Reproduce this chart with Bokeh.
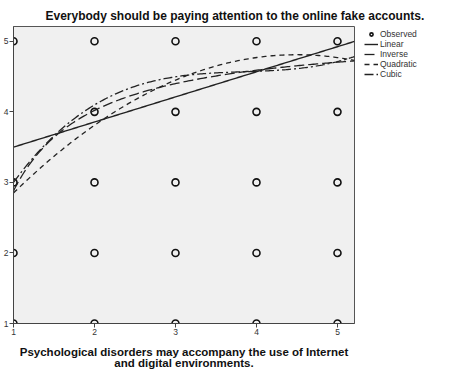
from bokeh.plotting import figure
from bokeh.models import Legend, LegendItem, Range1d, FixedTicker, ColumnDataSource
from bokeh.embed import file_html
from bokeh.resources import INLINE
import numpy as np

title_text = "Everybody should be paying attention to the online fake accounts."
x_label = "Psychological disorders may accompany the use of Internet\nand digital environments."

# Observed (x, y) response combinations
obs_x = [1, 1, 1, 1,
         2, 2, 2, 2, 2,
         3, 3, 3, 3, 3,
         4, 4, 4, 4, 4,
         5, 5, 5, 5, 5]
obs_y = [5, 3, 2, 1,
         5, 4, 3, 2, 1,
         5, 4, 3, 2, 1,
         5, 4, 3, 2, 1,
         5, 4, 3, 2, 1]

# Fitted model coefficients
linear_coef = [3.144, 0.356]                 # b0 + b1*x
inverse_coef = [5.16, -2.28]                 # b0 + b1/x
quadratic_coef = [1.57, 1.44, -0.16]         # b0 + b1*x + b2*x^2
cubic_coef = [0.82, 2.846, -0.73, 0.0633]    # b0 + b1*x + b2*x^2 + b3*x^3

x_ticks = [1, 2, 3, 4, 5]
y_ticks = [1, 2, 3, 4, 5]
x_lo, x_hi = 1.0, 5.21
y_lo, y_hi = 1.0, 5.21

xs = np.linspace(x_lo, x_hi, 200)
lin = linear_coef[0] + linear_coef[1] * xs
inv = inverse_coef[0] + inverse_coef[1] / xs
quad = quadratic_coef[0] + quadratic_coef[1] * xs + quadratic_coef[2] * xs ** 2
cub = cubic_coef[0] + cubic_coef[1] * xs + cubic_coef[2] * xs ** 2 + cubic_coef[3] * xs ** 3

FRAME_H = 297
p = figure(width=466, height=371, output_backend="svg", toolbar_location=None,
           x_range=Range1d(x_lo, x_hi), y_range=Range1d(y_lo, y_hi),
           frame_width=341, frame_height=FRAME_H,
           min_border_left=0, min_border_top=26, min_border_bottom=0, min_border_right=0)

p.title.text = title_text
p.title.text_font = "Liberation Sans"
p.title.text_font_size = "12px"
p.title.text_font_style = "bold"
p.title.text_color = "#111111"
p.title.align = "left"
p.title.offset = 32
p.title.standoff = 8

p.background_fill_color = "#f0f0f0"
p.border_fill_color = "white"
p.outline_line_color = "#555555"
p.outline_line_width = 1
p.grid.visible = False

for ax in (p.xaxis, p.yaxis):
    ax.axis_line_color = "#444444"
    ax.major_tick_line_color = "#444444"
    ax.major_tick_in = 0
    ax.major_tick_out = 4
    ax.minor_tick_line_color = None
    ax.major_label_text_font = "Liberation Sans"
    ax.major_label_text_font_size = "8.5px"
    ax.major_label_text_color = "#333333"
    ax.major_label_standoff = 1

p.xaxis.ticker = FixedTicker(ticks=x_ticks)
p.yaxis.ticker = FixedTicker(ticks=y_ticks)
p.xaxis.axis_label = x_label
p.xaxis.axis_label_text_font = "Liberation Sans"
p.xaxis.axis_label_text_font_size = "11.5px"
p.xaxis.axis_label_text_font_style = "bold"
p.xaxis.axis_label_text_color = "#111111"
p.xaxis.axis_label_text_line_height = 0.95
p.xaxis.axis_label_standoff = 8

src = ColumnDataSource(dict(x=xs, lin=lin, inv=inv, quad=quad, cub=cub))

r_obs = p.scatter(obs_x, obs_y, size=7, marker="circle", fill_color=None,
                  line_color="#111111", line_width=1.6)
r_lin = p.line("x", "lin", source=src, line_color="#222222", line_width=1.4)
r_inv = p.line("x", "inv", source=src, line_color="#222222", line_width=1.3, line_dash="10 4")
r_quad = p.line("x", "quad", source=src, line_color="#222222", line_width=1.3, line_dash="5 4")
r_cub = p.line("x", "cub", source=src, line_color="#222222", line_width=1.3, line_dash="9 3 2 3")

legend = Legend(items=[
    LegendItem(label="Observed", renderers=[r_obs]),
    LegendItem(label="Linear", renderers=[r_lin]),
    LegendItem(label="Inverse", renderers=[r_inv]),
    LegendItem(label="Quadratic", renderers=[r_quad]),
    LegendItem(label="Cubic", renderers=[r_cub]),
], location=(10, FRAME_H - 53))
legend.label_text_font = "Liberation Sans"
legend.label_text_font_size = "8.5px"
legend.label_text_color = "#333333"
legend.label_standoff = 2
legend.label_height = 8
legend.glyph_height = 8
legend.glyph_width = 14
legend.spacing = 0
legend.padding = 1
legend.margin = 0
legend.border_line_color = None
legend.background_fill_alpha = 0
p.add_layout(legend, "right")

open("out.html", "w").write(file_html(p, INLINE))
